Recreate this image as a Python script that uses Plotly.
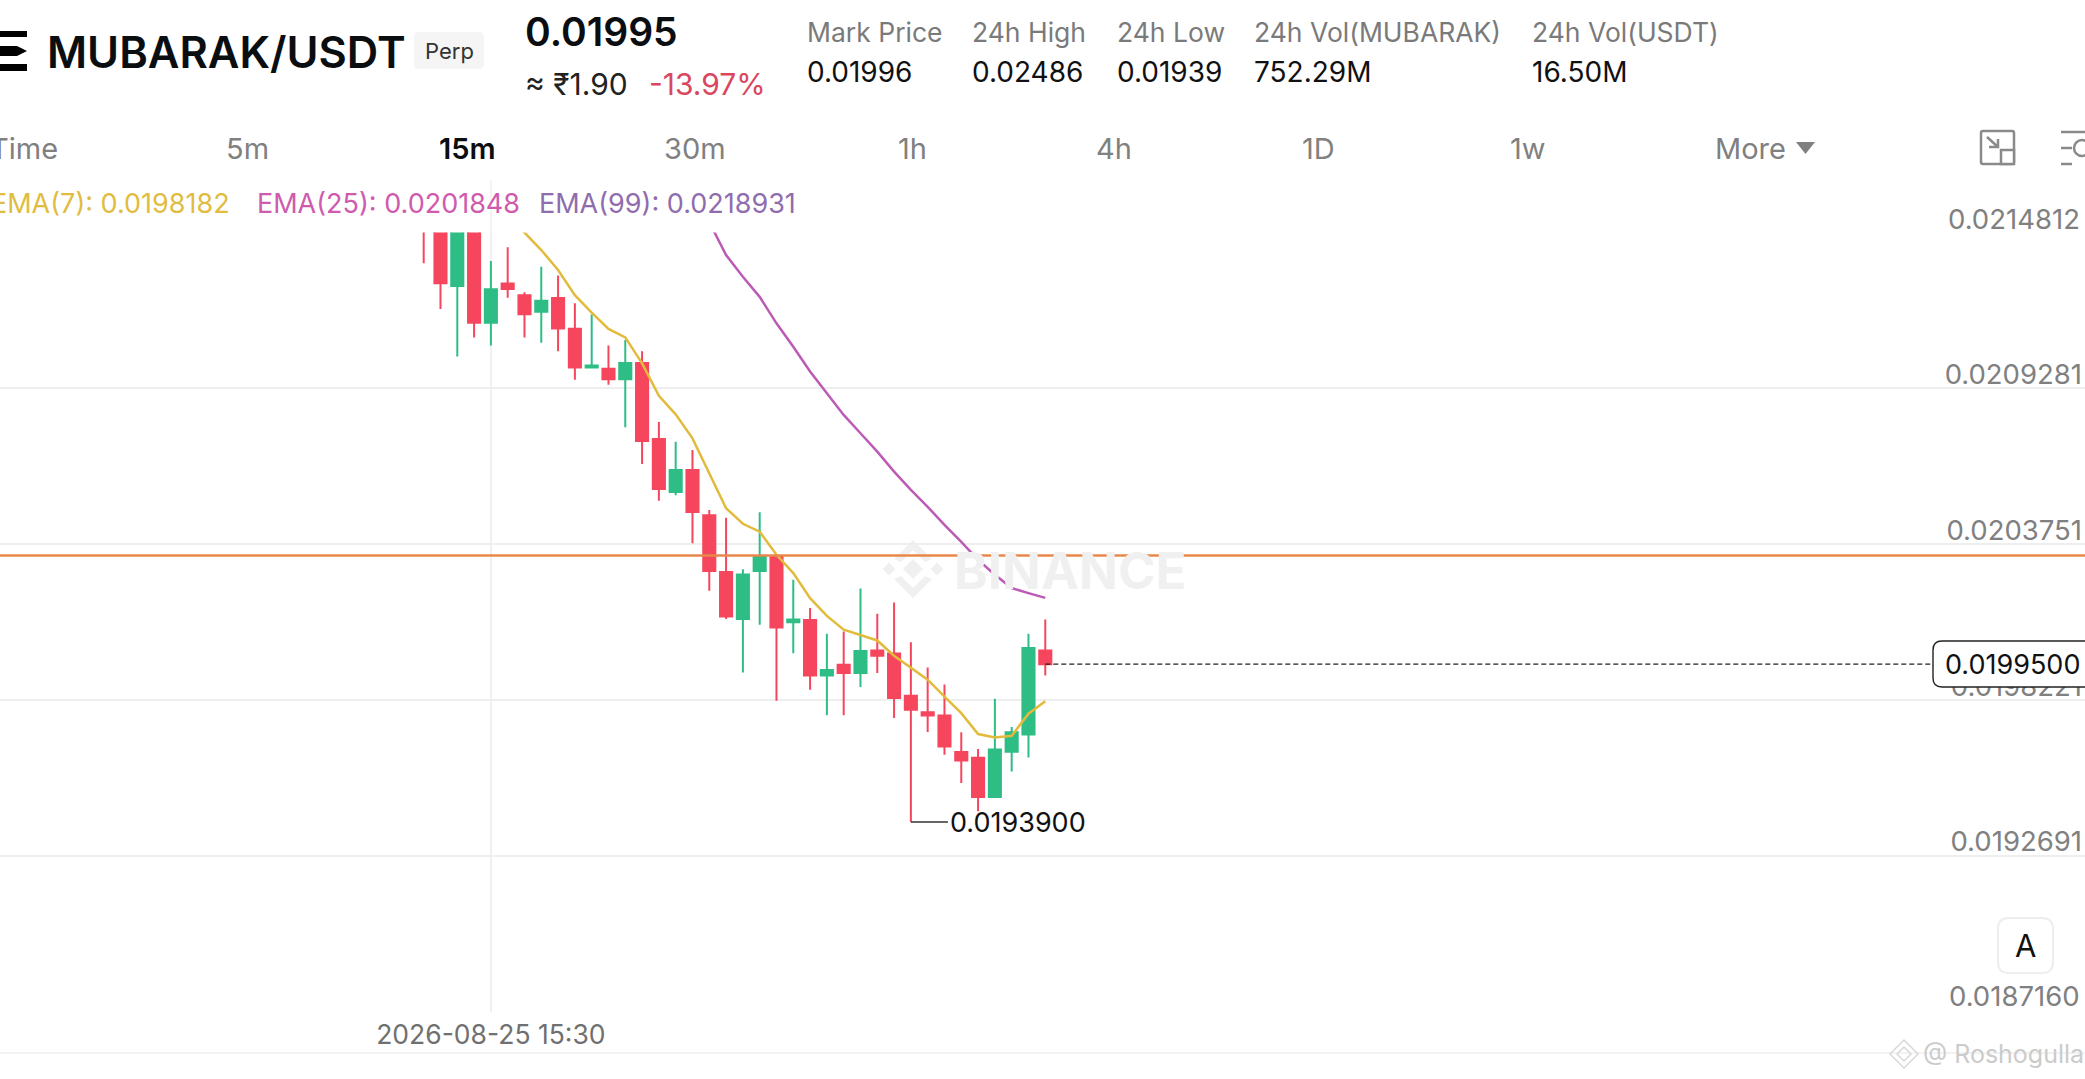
import pandas as pd
import plotly.graph_objects as go

W, H = 2085, 1079
FONT = "Inter"

# 15m candles, first one at 14:30 (15:30 is the labelled tick)
times = pd.date_range("2026-08-25 14:30", periods=38, freq="15min")

opens = [0.021550, 0.021600, 0.021291, 0.021600, 0.021161, 0.021300, 0.021259, 0.021200, 0.021249, 0.021140,
         0.021002, 0.020998, 0.020961, 0.021018, 0.020749, 0.020561, 0.020639, 0.020478, 0.020277, 0.020110,
         0.020280, 0.020331, 0.020099, 0.020107, 0.019910, 0.019948, 0.019919, 0.019998, 0.019988, 0.019838,
         0.019779, 0.019768, 0.019638, 0.019618, 0.019479, 0.019639, 0.019700, 0.019998]
highs = [0.021700, 0.021700, 0.021700, 0.021700, 0.021380, 0.021429, 0.021269, 0.021360, 0.021329, 0.021230,
         0.021190, 0.021080, 0.021100, 0.021060, 0.020809, 0.020739, 0.020710, 0.020497, 0.020469, 0.020287,
         0.020489, 0.020334, 0.020249, 0.020149, 0.020058, 0.020066, 0.020218, 0.020129, 0.020169, 0.020028,
         0.019938, 0.019878, 0.019708, 0.019649, 0.019827, 0.019727, 0.020058, 0.020108]
lows = [0.021372, 0.021210, 0.021041, 0.021109, 0.021080, 0.021250, 0.021109, 0.021090, 0.021060, 0.020959,
        0.021002, 0.020941, 0.020790, 0.020660, 0.020530, 0.020549, 0.020379, 0.020210, 0.020110, 0.019920,
        0.020090, 0.019820, 0.019989, 0.019859, 0.019769, 0.019769, 0.019869, 0.019919, 0.019759, 0.019390,
        0.019709, 0.019629, 0.019528, 0.019428, 0.019479, 0.019569, 0.019619, 0.019910]
closes = [0.021500, 0.021301, 0.021600, 0.021161, 0.021280, 0.021281, 0.021191, 0.021239, 0.021141, 0.021002,
          0.021009, 0.020961, 0.021018, 0.020742, 0.020571, 0.020639, 0.020490, 0.020280, 0.020119, 0.020268,
          0.020331, 0.020080, 0.020108, 0.019910, 0.019929, 0.019919, 0.019997, 0.019980, 0.019830, 0.019788,
          0.019768, 0.019658, 0.019608, 0.019479, 0.019647, 0.019708, 0.020007, 0.019950]

# EMA(7) from candle 5 on, EMA(25) from candle 17 on, the rest is above the chart
ema7 = [0.021543, 0.021482, 0.021419, 0.021348, 0.021259, 0.021197, 0.021139, 0.021109, 0.021017, 0.020902,
        0.020836, 0.020751, 0.020627, 0.020503, 0.020448, 0.020420, 0.020338, 0.020273, 0.020184, 0.020121,
        0.020072, 0.020054, 0.020034, 0.019980, 0.019936, 0.019895, 0.019835, 0.019776, 0.019702, 0.019690,
        0.019696, 0.019774, 0.019818]
ema25 = [0.021518, 0.021401, 0.021324, 0.021253, 0.021159, 0.021076, 0.020988, 0.020911, 0.020834, 0.020769,
         0.020704, 0.020633, 0.020568, 0.020508, 0.020444, 0.020384, 0.020320, 0.020267, 0.020220, 0.020202,
         0.020185]

price_ticks = [0.0214812, 0.0209281, 0.0203751, 0.0198221, 0.0192691, 0.0187160]
price_labels = ["0.0214812", "0.0209281", "0.0203751", "0.0198221", "0.0192691", "0.0187160"]
time_ticks = ["2026-08-25 15:30"]
time_labels = ["2026-08-25 15:30"]
last_price = 0.01995
low_price = 0.01939
orange_level = 0.020335

stat_names = ["Mark Price", "24h High", "24h Low", "24h Vol(MUBARAK)", "24h Vol(USDT)"]
stat_values = ["0.01996", "0.02486", "0.01939", "752.29M", "16.50M"]
stat_x = [807, 972, 1117, 1254, 1532]
intervals = ["5m", "15m", "30m", "1h", "4h", "1D", "1w"]
interval_x = [247, 467, 695, 912, 1114, 1318, 1528]


# pixel position -> paper fraction (margins are 0 so paper is the whole page)
def fx(x):
    return x / W


def fy(y):
    return 1 - y / H


def path(points):
    return "M" + " L".join(f"{fx(x)},{fy(y)}" for x, y in points) + " Z"


def rrect(x0, y0, x1, y1, r):
    return (f"M{fx(x0 + r)},{fy(y0)} L{fx(x1 - r)},{fy(y0)} Q{fx(x1)},{fy(y0)} {fx(x1)},{fy(y0 + r)} "
            f"L{fx(x1)},{fy(y1 - r)} Q{fx(x1)},{fy(y1)} {fx(x1 - r)},{fy(y1)} "
            f"L{fx(x0 + r)},{fy(y1)} Q{fx(x0)},{fy(y1)} {fx(x0)},{fy(y1 - r)} "
            f"L{fx(x0)},{fy(y0 + r)} Q{fx(x0)},{fy(y0)} {fx(x0 + r)},{fy(y0)} Z")


def diamond(cx, cy, r):
    return path([(cx, cy - r), (cx + r, cy), (cx, cy + r), (cx - r, cy)])


fig = go.Figure()

fig.add_trace(go.Candlestick(x=times, open=opens, high=highs, low=lows, close=closes,
                             increasing=dict(line=dict(color="#2EBD85", width=2), fillcolor="#2EBD85"),
                             decreasing=dict(line=dict(color="#F6465D", width=2), fillcolor="#F6465D"),
                             showlegend=False))
fig.add_trace(go.Scatter(x=times[5:], y=ema7, mode="lines", line=dict(color="#E3BB3C", width=2.5),
                         showlegend=False))
fig.add_trace(go.Scatter(x=times[17:], y=ema25, mode="lines", line=dict(color="#BC5BB5", width=2.5),
                         showlegend=False))

shapes = []
texts = []


def label(x, y, text, size, color, anchor="left", weight=400):
    texts.append(dict(x=fx(x), y=fy(y), xref="paper", yref="paper", text=text, showarrow=False,
                      xanchor=anchor, yanchor="middle",
                      font=dict(family=FONT, size=size, color=color, weight=weight)))


# header logo
for bar in [(0, 31, 27, 37), (0, 64, 27, 71)]:
    shapes.append(dict(type="rect", xref="paper", yref="paper", x0=fx(bar[0]), y0=fy(bar[1]), x1=fx(bar[2]), y1=fy(bar[3]),
                       fillcolor="#000000", line_width=0))
shapes.append(dict(type="path", xref="paper", yref="paper", fillcolor="#000000", line_width=0,
                   path=path([(0, 46), (17, 46), (27, 51), (17, 56), (0, 56)])))

# header text
label(45, 52, "MUBARAK/USDT", 43.5, "#0b0e11", weight=600)
shapes.append(dict(type="path", xref="paper", yref="paper", fillcolor="#F5F5F5", line_width=0,
                   path=rrect(414, 32, 484, 69, 5)))
label(449, 51, "Perp", 22, "#333333", anchor="center")
label(523, 31, "0.01995", 39, "#0b0e11", weight=600)
label(523, 84, "≈ ₹1.90", 30, "#222222")
label(647, 84, "-13.97%", 30, "#D9475F")
for x, name, value in zip(stat_x, stat_names, stat_values):
    label(x - 2, 32, name, 26.5, "#7A7A7A")
    label(x - 2, 72, value, 28, "#111111")

# interval row
label(60, 148, "Time", 29, "#808080", anchor="right")
for x, name in zip(interval_x, intervals):
    if name == "15m":
        label(x, 148, name, 29, "#0b0e11", anchor="center", weight=600)
    else:
        label(x, 148, name, 29, "#808080", anchor="center")
label(1713, 148, "More", 29, "#808080")
shapes.append(dict(type="path", xref="paper", yref="paper", fillcolor="#808080", line_width=0,
                   path=path([(1796, 142), (1815, 142), (1805.5, 154)])))

# the two little icons top right
shapes.append(dict(type="path", xref="paper", yref="paper", line=dict(color="#8A8A8A", width=2.5),
                   path=rrect(1981, 131, 2014, 164, 2)))
shapes.append(dict(type="rect", xref="paper", yref="paper", x0=fx(2001), y0=fy(150), x1=fx(2014), y1=fy(164),
                   fillcolor="#FFFFFF", line=dict(color="#8A8A8A", width=2.5)))
shapes.append(dict(type="path", xref="paper", yref="paper", line=dict(color="#8A8A8A", width=2.5),
                   path=f"M{fx(1987)},{fy(137)} L{fx(1998)},{fy(147)} M{fx(1998)},{fy(139)} L{fx(1998)},{fy(147)} L{fx(1989)},{fy(147)}"))
for y, x1 in [(132, 2085), (148, 2072), (164, 2072)]:
    shapes.append(dict(type="line", xref="paper", yref="paper", x0=fx(2061), x1=fx(x1), y0=fy(y), y1=fy(y),
                       line=dict(color="#8A8A8A", width=2.5)))
shapes.append(dict(type="circle", xref="paper", yref="paper", x0=fx(2074), x1=fx(2090), y0=fy(140), y1=fy(156),
                   line=dict(color="#8A8A8A", width=2.5)))

# EMA legend
label(232, 203, "EMA(7): 0.0198182", 27, "#E0BC3F", anchor="right")
label(255, 203, "EMA(25): 0.0201848", 27, "#CF5AAE")
label(537, 203, "EMA(99): 0.0218931", 27, "#8F6CAE")

# watermark in the middle of the chart
wm = dict(type="path", xref="paper", yref="paper", fillcolor="#F0F0F0", line_width=0, layer="below")
shapes.append(dict(wm, path=diamond(913, 569, 10)))
shapes.append(dict(wm, path=diamond(889, 569, 6.5)))
shapes.append(dict(wm, path=diamond(937, 569, 6.5)))
shapes.append(dict(wm, path=path([(913, 540), (932, 559), (925, 562), (913, 550), (901, 562), (894, 559)])))
shapes.append(dict(wm, path=path([(913, 598), (932, 579), (925, 576), (913, 588), (901, 576), (894, 579)])))
label(952, 570, "BINANCE", 51, "#F0F0F0", weight=700)

# small watermark bottom right
for r in (14, 7):
    shapes.append(dict(type="path", xref="paper", yref="paper", line=dict(color="#D8D8D8", width=1.5),
                       path=diamond(1904, 1054, r)))
label(1921, 1054, "@ Roshogulla", 25, "#CBCBCB")

# lines that are not axes
shapes.append(dict(type="line", xref="paper", yref="y", x0=0, x1=1, y0=orange_level, y1=orange_level,
                   line=dict(color="#E8874A", width=2.5), layer="above"))
shapes.append(dict(type="line", xref="x", yref="y", x0=times[37], x1="2026-08-26 12:57:36", y0=last_price, y1=last_price,
                   line=dict(color="#222222", width=1.4, dash="5px,3px")))
shapes.append(dict(type="line", xref="x", yref="paper", x0=time_ticks[0], x1=time_ticks[0], y0=fy(180), y1=fy(233),
                   line=dict(color="#F0F0F0", width=1.5), layer="below"))
shapes.append(dict(type="line", xref="paper", yref="paper", x0=0, x1=1, y0=fy(1053), y1=fy(1053),
                   line=dict(color="#EEEEEE", width=1.5), layer="below"))

# first and last price labels drop off the axis so they go in by hand
for i, shift in ((0, -5), (-1, -3)):
    texts.append(dict(x=1, y=price_ticks[i], xref="paper", yref="y", text=price_labels[i], showarrow=False, xanchor="right",
                      xshift=-3, yshift=shift, yanchor="bottom", font=dict(family=FONT, size=27.5, color="#808080")))

# last price tag, runs off the right side
shapes.append(dict(type="path", xref="paper", yref="paper", fillcolor="#FFFFFF", line=dict(color="#222222", width=1.4),
                   path=rrect(1933, 641, 2095, 687, 9)))
texts.append(dict(x=1, y=last_price, xref="paper", yref="y", text="0.0199500", showarrow=False, xanchor="right", xshift=-3,
                  yanchor="middle", font=dict(family=FONT, size=27, color="#111111")))

# low marker
texts.append(dict(x=times[29], y=low_price, xref="x", yref="y", text="0.0193900", showarrow=True, arrowhead=0,
                  arrowwidth=1.5, arrowcolor="#333333", ax=37, ay=0, xanchor="left", yanchor="middle",
                  font=dict(family=FONT, size=27, color="#111111")))

# A button
shapes.append(dict(type="path", xref="paper", yref="paper", fillcolor="#FFFFFF", line=dict(color="#EEEEEE", width=2),
                   path=rrect(1998, 918, 2053, 973, 11)))
label(2025.5, 945, "A", 31, "#111111", anchor="center")

fig.update_layout(
    width=W, height=H,
    margin=dict(l=0, r=0, t=0, b=0),
    paper_bgcolor="#FFFFFF", plot_bgcolor="#FFFFFF",
    showlegend=False,
    boxgap=0.28, boxgroupgap=0,
    shapes=shapes,
    annotations=texts,
    xaxis=dict(type="date", range=["2026-08-25 08:11:42", "2026-08-26 15:13:21"], domain=[0, 1],
               rangeslider=dict(visible=False), tickvals=time_ticks, ticktext=time_labels,
               showgrid=True, gridcolor="#F0F0F0", gridwidth=1.5, zeroline=False, showline=False, ticks="",
               ticklabelstandoff=4, tickfont=dict(family=FONT, size=26.5, color="#707070")),
    yaxis=dict(range=[price_ticks[-1], price_ticks[0]], domain=[1 - 1012 / H, 1 - 232.5 / H], side="right",
               tickvals=price_ticks, ticktext=price_labels, ticklabelposition="inside top", ticklabelshift=5,
               showgrid=True, gridcolor="#EEEEEE", gridwidth=1.5, zeroline=False, showline=False, ticks="",
               tickfont=dict(family=FONT, size=27.5, color="#808080")),
)

# browser default body margin shifts the whole chart by 8px
fig.write_html("out.html", config={"displayModeBar": False}, post_script="document.body.style.margin = '0';")
